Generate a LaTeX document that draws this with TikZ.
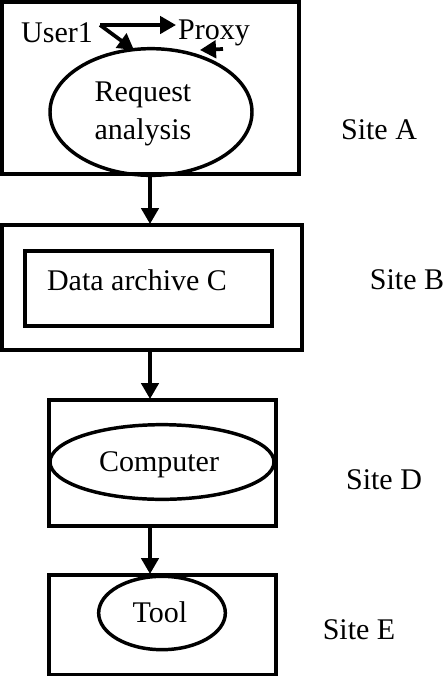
\documentclass[tikz,border=0pt]{standalone}
\usepackage{fontspec}
\setmainfont{Liberation Serif}
\usetikzlibrary{arrows.meta,shapes.geometric}
\begin{document}
\begin{tikzpicture}[x=0.75pt,y=-0.75pt,
  box/.style={draw,line width=2.8pt},
  ell/.style={draw,ellipse,line width=2.6pt,inner sep=0pt},
  lbl/.style={font=\fontsize{22.5}{28.5}\selectfont,inner sep=0pt,align=center},
  arr/.style={line width=2.8pt,-{Triangle[length=12pt,width=13pt]}}]
\useasboundingbox (0,0) rectangle (444,676);
% Site A
\draw[box] (2,2) rectangle (299,174);
\node[ell,minimum width=151.5pt,minimum height=95pt] (ra) at (151,112) {};
\node[lbl] (ratext) at (143,114) {Request\\analysis};
\node[lbl] (u1) at (57,33) {User1};
\node[lbl] (px) at (214,33) {Proxy};
\coordinate (fork) at (100,25);
\coordinate (pin) at (223,49);
\draw[arr] (fork) -- (176,25);
\draw[arr] (fork) -- (134,50);
\draw[arr] (pin) -- (200,50);
\node[lbl] (sa) at (379,130) {Site A};
% Site B
\draw[box] (2,225) rectangle (302,350);
\draw[box] (25,251) rectangle (272,326);
\node[lbl] (dac) at (137,280) {Data archive C};
\node[lbl] (sb) at (407,280) {Site B};
% Site D
\draw[box] (49,400) rectangle (276,526);
\node[ell,minimum width=168pt,minimum height=56pt] (comp) at (162,462) {};
\node[lbl] (comptext) at (159,465) {Computer};
\node[lbl] (sd) at (384,480) {Site D};
% Site E
\draw[box] (49,575) rectangle (276,675);
\node[ell,minimum width=95pt,minimum height=55pt] (tool) at (162,613) {};
\node[lbl] (tooltext) at (160,612) {Tool};
\node[lbl] (se) at (359,630) {Site E};
% connectors
\coordinate (a1) at (150,175);
\coordinate (b1) at (150,224);
\coordinate (b2) at (150,351);
\coordinate (d1) at (150,399);
\coordinate (d2) at (150,527);
\coordinate (e1) at (150,574);
\draw[arr] (a1) -- (b1);
\draw[arr] (b2) -- (d1);
\draw[arr] (d2) -- (e1);
\end{tikzpicture}
\end{document}
